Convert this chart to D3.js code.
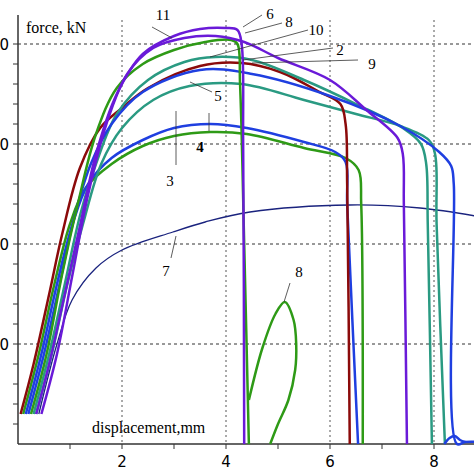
<!DOCTYPE html><html><head><meta charset="utf-8"><script src="https://cdn.jsdelivr.net/npm/d3@7"></script>
<style>body{margin:0;background:#fff}</style></head><body><svg id="c" width="474" height="474"></svg>
<script>
const xTicks=[2,4,6,8];
const yTicks=[50,100,150,200];
const yTickLabels=["50","100","150","200"];
const c6=[[0.35,15],[0.6,40],[0.9,75],[1.2,110],[1.5,145],[1.9,175],[2.4,195],[3.0,204],[3.5,207.5],[4.0,208],[4.22,207],[4.3,200],[4.33,150],[4.35,0]];
const c11=[[0.45,15],[0.75,45],[1.05,85],[1.35,125],[1.7,160],[2.1,185],[2.6,198],[3.2,203],[3.8,204],[4.35,201],[5.0,193],[6.0,182],[6.7,167],[7.3,153],[7.4,145],[7.42,120],[7.48,0]];
const c8=[[0.25,15],[0.55,45],[0.85,85],[1.15,120],[1.5,155],[1.9,178],[2.4,190],[3.0,197],[3.6,201],[4.1,202],[4.22,200],[4.27,180],[4.35,100],[4.44,0]];
const c8loop=[[4.44,22],[4.7,48],[4.95,65],[5.13,71],[5.3,62],[5.35,50],[5.33,37],[5.2,22],[5.0,10],[4.85,0]];
const c10=[[0.3,15],[0.6,45],[0.9,80],[1.2,115],[1.5,140],[1.9,165],[2.5,182],[3.2,191],[3.8,193.5],[4.5,192],[5.5,182],[6.5,170],[7.4,158],[7.75,150],[7.85,140],[7.88,110],[7.96,0]];
const c9=[[0.05,15],[0.3,40],[0.6,75],[0.85,105],[1.19,138],[1.58,158],[2.0,168],[2.5,178],[3.5,189],[4.3,190.5],[5.04,186],[5.8,176],[6.2,170],[6.3,160],[6.33,130],[6.38,0]];
const c2=[[0.2,15],[0.5,45],[0.8,80],[1.1,115],[1.4,140],[1.8,160],[2.4,176],[3.5,187],[4.5,185],[6.0,174],[7.35,159],[8.1,146],[8.33,139],[8.38,130],[8.44,0],[8.6,1],[8.9,1]];
const c2bump=[[8.2,0],[8.3,3],[8.4,4],[8.5,2],[8.6,1]];
const c5=[[0.35,15],[0.65,45],[0.95,80],[1.25,110],[1.6,140],[2.0,158],[2.6,172],[3.3,179],[4.3,180],[5.5,172],[6.5,165],[7.35,159],[7.9,152],[8.02,145],[8.05,110],[8.21,0]];
const c4=[[0.15,15],[0.45,45],[0.75,80],[1.05,110],[1.35,130],[1.8,143],[2.4,152],[3.0,158],[3.7,160],[4.4,158],[5.5,151],[6.1,146],[6.3,141],[6.33,120],[6.54,0]];
const c3=[[0.1,15],[0.4,45],[0.7,80],[1.0,110],[1.3,128],[1.8,140],[2.4,149],[3.0,154],[3.7,156],[4.4,155],[5.5,148],[6.3,143],[6.55,137],[6.6,120],[6.63,0]];
const c7=[[0.4,15],[0.75,50],[1.04,72],[1.5,88],[2.0,97],[2.98,106],[3.6,111],[4.46,116],[6.38,119.5],[7.73,118],[8.8,114]];
const series=[
 {d:c7,col:"#1a237e",w:1.3},{d:c3,col:"#2e9a16",w:2.5},{d:c4,col:"#1f3fe0",w:2.5},{d:c5,col:"#2a9a82",w:2.5},
 {d:c9,col:"#8b0a0a",w:2.5},{d:c10,col:"#2a9a82",w:2.5},{d:c2,col:"#1f3fe0",w:2.5},{d:c2bump,col:"#1f3fe0",w:2.5},
 {d:c8,col:"#2e9a16",w:2.5},{d:c8loop,col:"#2e9a16",w:2.5},{d:c11,col:"#6a1ad8",w:2.5},{d:c6,col:"#6a1ad8",w:2.5}];
const labels=[["11",163,20,152,27,172,38],["6",270,19,262,15,243,27],["8",289,27,282,23,245,33],["10",316,35,308,30,210,57],["2",340,55,333,48,243,60],["9",372,69,358,60,252,63],["5",218,101,212,92,190,82],["4",200,152,209,131,209,113],["3",170,186,176,165,176,111],["7",166,276,171,258,176,236],["8",299,277,290,283,284,302]];
const svg=d3.select("#c");
const x=d3.scaleLinear().domain([0,(474-18)/52]).range([18,474]);
const y=d3.scaleLinear().domain([0,200]).range([444,44]);
svg.selectAll(".gx").data(xTicks).join("line").attr("x1",d=>x(d)).attr("x2",d=>x(d)).attr("y1",20).attr("y2",444).attr("stroke","#555").attr("stroke-dasharray","2,3").attr("stroke-width",1);
svg.selectAll(".gy").data(yTicks).join("line").attr("x1",18).attr("x2",474).attr("y1",d=>y(d)).attr("y2",d=>y(d)).attr("stroke","#333").attr("stroke-dasharray","3,3").attr("stroke-width",1);
svg.append("line").attr("x1",18).attr("x2",18).attr("y1",15).attr("y2",444).attr("stroke","#333").attr("stroke-width",1.5);
svg.append("line").attr("x1",18).attr("x2",474).attr("y1",444).attr("y2",444).attr("stroke","#333").attr("stroke-width",1.5);
svg.selectAll(".ym").data(d3.range(10,210,10)).join("line").attr("x1",13).attr("x2",18).attr("y1",d=>y(d)).attr("y2",d=>y(d)).attr("stroke","#333");
svg.selectAll(".xm").data(d3.range(1,9,1)).join("line").attr("x1",d=>x(d)).attr("x2",d=>x(d)).attr("y1",444).attr("y2",449).attr("stroke","#333");
svg.selectAll(".yl").data(yTicks).join("text").attr("x",9).attr("y",d=>y(d)+6).attr("text-anchor","end").attr("font-family","DejaVu Sans").attr("font-size",15).text((d,i)=>yTickLabels[i]);
svg.selectAll(".xl").data(xTicks).join("text").attr("x",d=>x(d)).attr("y",467).attr("text-anchor","middle").attr("font-family","DejaVu Sans").attr("font-size",15).text(d=>d);
const line2=d3.line().x(d=>x(d[0])).y(d=>y(d[1])).curve(d3.curveCatmullRom);
series.forEach(s=>svg.append("path").attr("d",line2(s.d)).attr("fill","none").attr("stroke",s.col).attr("stroke-width",s.w).attr("stroke-linejoin","round"));
labels.forEach(l=>{svg.append("line").attr("x1",l[3]).attr("y1",l[4]).attr("x2",l[5]).attr("y2",l[6]).attr("stroke","#333").attr("stroke-width",0.8);
 svg.append("text").attr("x",l[1]).attr("y",l[2]).attr("text-anchor","middle").attr("font-family","Liberation Serif").attr("font-size",15).attr("font-weight",l[0]==="4"?"bold":"normal").text(l[0]);});
svg.append("text").attr("x",26).attr("y",33).attr("font-family","Liberation Serif").attr("font-size",16).text("force, kN");
svg.append("text").attr("x",92).attr("y",433).attr("font-family","Liberation Serif").attr("font-size",16).text("displacement,mm");
</script></body></html>
